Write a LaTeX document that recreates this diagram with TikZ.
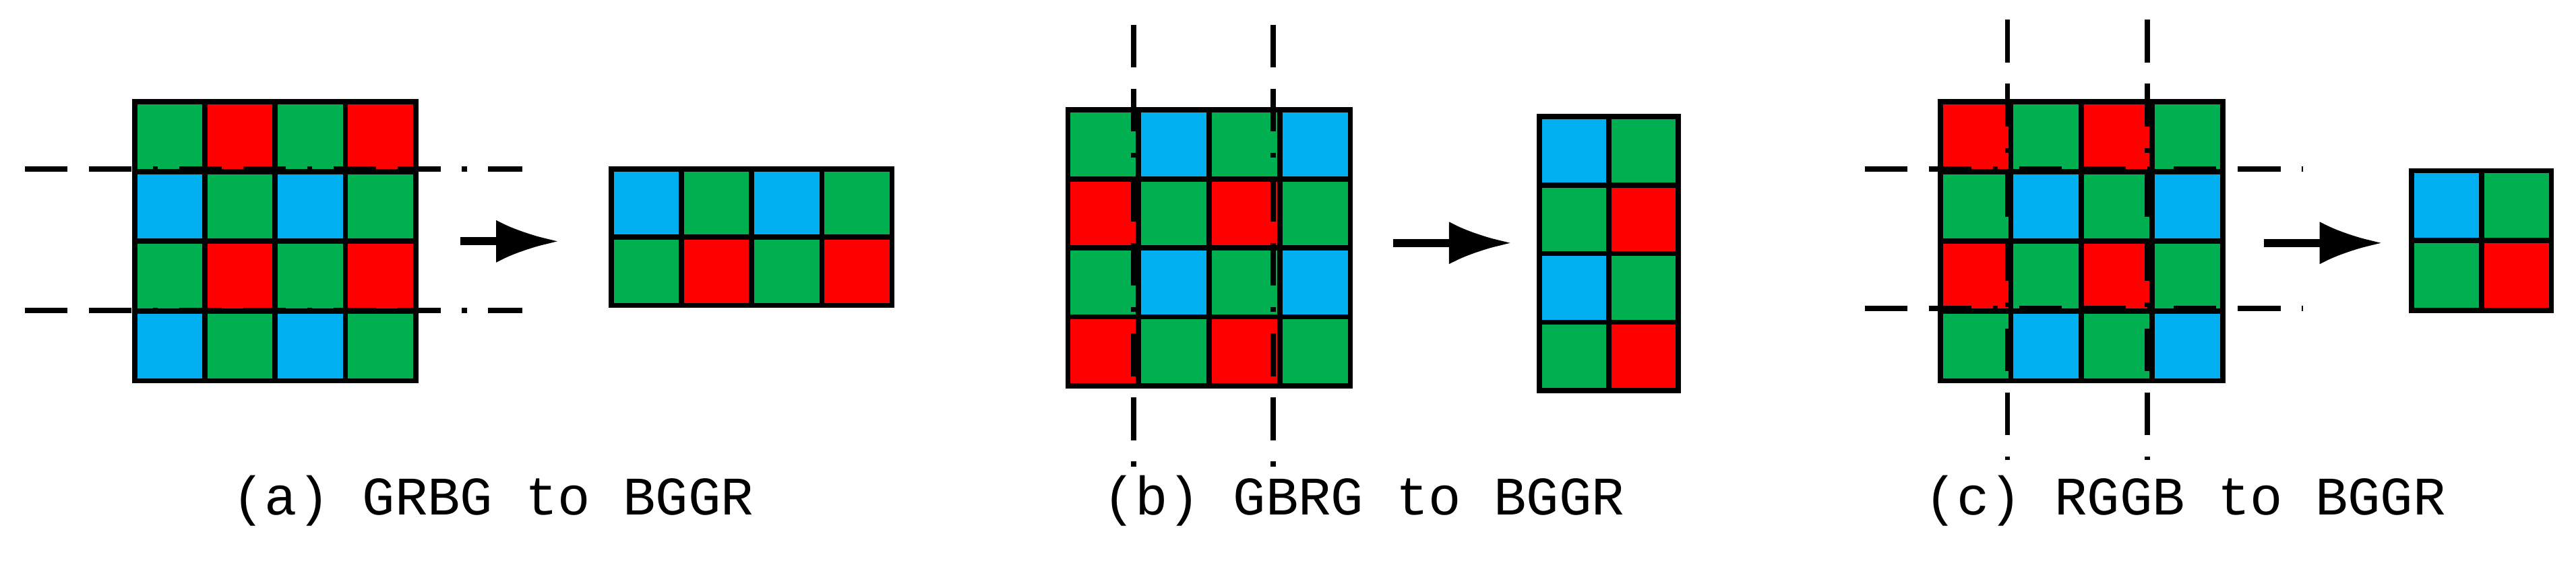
\documentclass[tikz,border=0pt]{standalone}
\usepackage{fontspec}
\setmonofont{Liberation Mono}
\usetikzlibrary{arrows.meta}
\definecolor{gg}{HTML}{00B050}
\definecolor{rr}{HTML}{FF0000}
\definecolor{bb}{HTML}{00B0F0}
\tikzset{cell/.style={draw=black,line width=0.9pt},
 dd/.style={line width=0.9pt,dash pattern=on 0.26cm off 0.13cm on 0.26cm off 0.13cm on 0.03cm off 0.13cm},
 arr/.style={line width=1.4pt,-{Latex[length=0.38cm,width=0.26cm]}},
 lab/.style={font=\ttfamily\fontsize{9.4pt}{11pt}\selectfont}}
% grid: x0, y0 (top), cell w, cell h, rows of colours
\newcommand{\mygrid}[5]{%
 \foreach \row [count=\i from 0] in {#5}{%
  \foreach \c [count=\j from 0] in \row{%
   \fill[\c] ({#1+\j*#3},{-(#2+\i*#4)}) rectangle ++(#3,-#4);
   \draw[cell] ({#1+\j*#3},{-(#2+\i*#4)}) rectangle ++(#3,-#4);
  }}}
\begin{document}
\begin{tikzpicture}[x=0.01cm,y=0.01cm]
\useasboundingbox (0,0) rectangle (1568,-344);
% (a)
\mygrid{82}{62}{42.75}{42.5}{{gg,rr,gg,rr},{bb,gg,bb,gg},{gg,rr,gg,rr},{bb,gg,bb,gg}}
\draw[dd] (15,-103) -- (318,-103);
\draw[dd] (15,-189) -- (318,-189);
\coordinate (a1) at (280,-147); \coordinate (a2) at (340,-147);
\draw[arr] (a1) -- (a2);
\mygrid{372}{103}{42.75}{41.5}{{bb,gg,bb,gg},{gg,rr,gg,rr}}
\node[lab] (la) at (300,-305) {(a) GRBG to BGGR};
% (b)
\mygrid{650}{67}{43}{42}{{gg,bb,gg,bb},{rr,gg,rr,gg},{gg,bb,gg,bb},{rr,gg,rr,gg}}
\draw[dd] (690,-15) -- (690,-292);
\draw[dd] (775,-15) -- (775,-292);
\coordinate (b1) at (848,-148); \coordinate (b2) at (920,-148);
\draw[arr] (b1) -- (b2);
\mygrid{937}{71}{42.25}{41.75}{{bb,gg},{gg,rr},{bb,gg},{gg,rr}}
\node[lab] (lb) at (830,-305) {(b) GBRG to BGGR};
% (c)
\mygrid{1181}{62}{43}{42.5}{{rr,gg,rr,gg},{gg,bb,gg,bb},{rr,gg,rr,gg},{gg,bb,gg,bb}}
\draw[dd] (1135,-103) -- (1402,-103);
\draw[dd] (1135,-188) -- (1402,-188);
\draw[dd] (1222,-12) -- (1222,-280);
\draw[dd] (1307,-12) -- (1307,-280);
\coordinate (c1) at (1378,-148); \coordinate (c2) at (1450,-148);
\draw[arr] (c1) -- (c2);
\mygrid{1468}{104}{42.5}{42.5}{{bb,gg},{gg,rr}}
\node[lab] (lc) at (1330,-305) {(c) RGGB to BGGR};
\end{tikzpicture}
\end{document}
